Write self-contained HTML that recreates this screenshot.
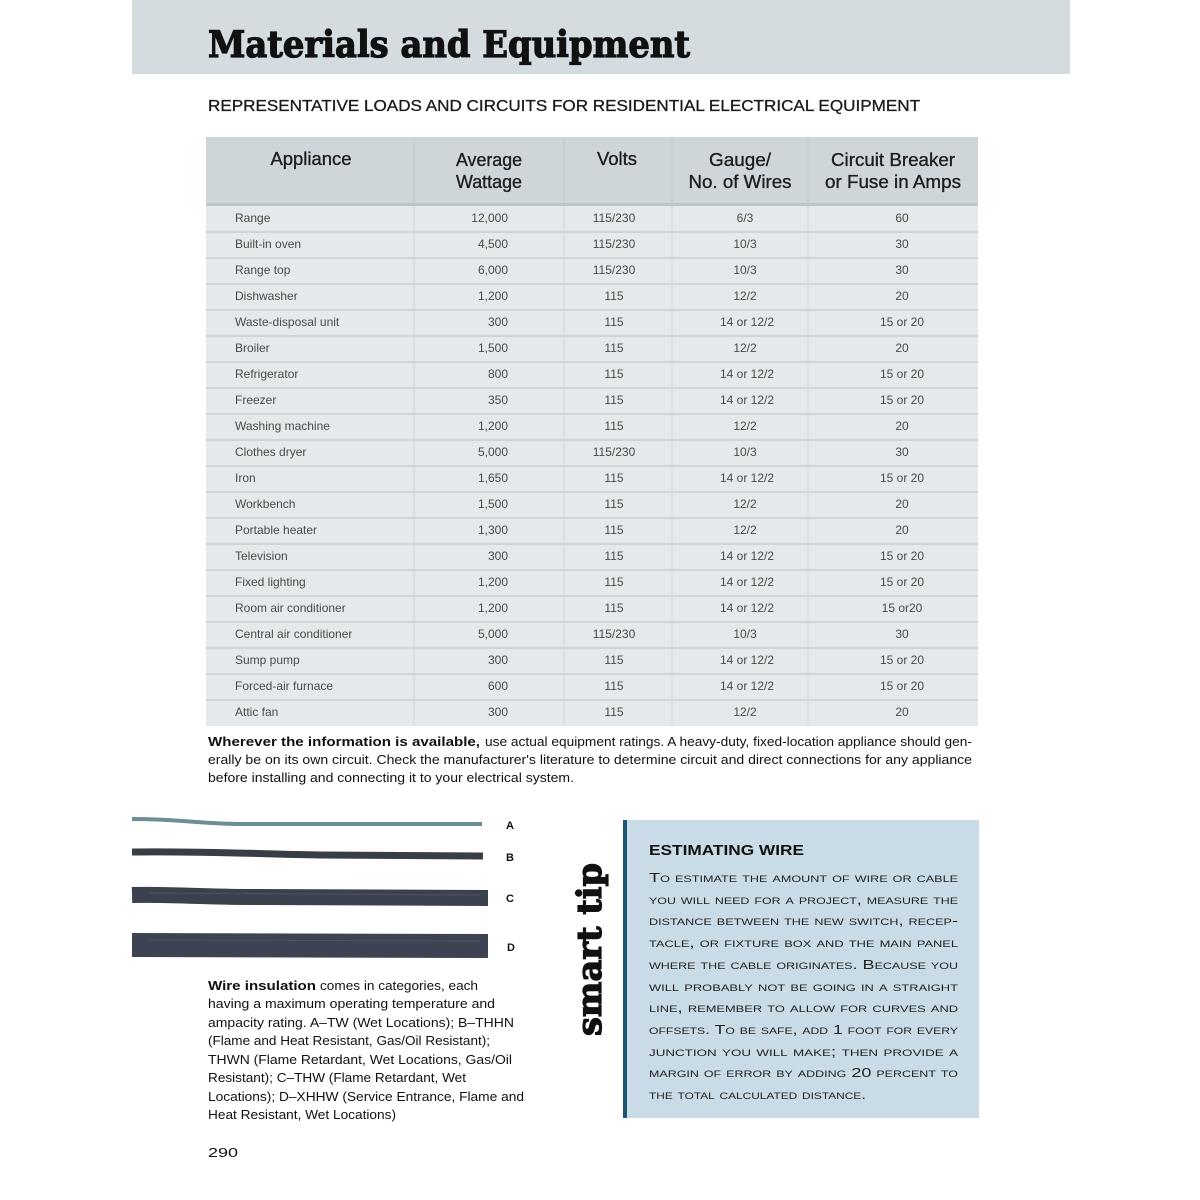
<!DOCTYPE html>
<html>
<head>
<meta charset="utf-8">
<style>
html,body{margin:0;padding:0;background:#fff;}
svg{display:block;}
.sans{font-family:"Liberation Sans","DejaVu Sans",sans-serif;}
.slab{font-family:"DejaVu Serif","Liberation Serif",serif;font-weight:bold;}
.row{font-family:"Liberation Sans",sans-serif;font-size:12px;fill:#4a4a4a;}
.hd{font-family:"Liberation Sans",sans-serif;font-size:18px;fill:#1e1e1e;stroke:#1e1e1e;stroke-width:0.35;}
.sc{font-family:"Liberation Sans",sans-serif;font-size:13px;fill:#222;font-variant:small-caps;}
.p{font-family:"Liberation Sans",sans-serif;font-size:13px;fill:#111;}
</style>
</head>
<body>
<svg width="1200" height="1200" viewBox="0 0 1200 1200" xmlns="http://www.w3.org/2000/svg">
<rect width="1200" height="1200" fill="#fff"/>
<!-- banner -->
<rect x="132" y="0" width="938" height="74" fill="#d5dcdf"/>
<text class="slab" x="208" y="57" font-size="36" fill="#111" stroke="#111" stroke-width="1.2" textLength="482" lengthAdjust="spacingAndGlyphs">Materials and Equipment</text>

<!-- subtitle -->
<text class="sans" x="208" y="111" font-size="16" fill="#1a1a1a" stroke="#1a1a1a" stroke-width="0.3" textLength="712" lengthAdjust="spacingAndGlyphs">REPRESENTATIVE LOADS AND CIRCUITS FOR RESIDENTIAL ELECTRICAL EQUIPMENT</text>

<!-- table -->
<rect x="206" y="137" width="772" height="68" fill="#ced6da"/>
<rect x="206" y="203" width="772" height="3" fill="#bcc5c9"/>
<rect x="206" y="206" width="772" height="520" fill="#e5e9eb"/>
<g stroke="#bfc7cb" stroke-width="1">
<line x1="414" y1="137" x2="414" y2="204"/>
<line x1="564" y1="137" x2="564" y2="204"/>
<line x1="672" y1="137" x2="672" y2="204"/>
<line x1="808" y1="137" x2="808" y2="204"/>
</g>
<g stroke="#cfd5d8" stroke-width="1">
<line x1="414" y1="206" x2="414" y2="726"/>
<line x1="564" y1="206" x2="564" y2="726"/>
<line x1="672" y1="206" x2="672" y2="726"/>
<line x1="808" y1="206" x2="808" y2="726"/>
</g>
<g stroke="#c7ced2" stroke-width="1.5">
<line x1="206" y1="232" x2="978" y2="232"/>
<line x1="206" y1="258" x2="978" y2="258"/>
<line x1="206" y1="284" x2="978" y2="284"/>
<line x1="206" y1="310" x2="978" y2="310"/>
<line x1="206" y1="336" x2="978" y2="336"/>
<line x1="206" y1="362" x2="978" y2="362"/>
<line x1="206" y1="388" x2="978" y2="388"/>
<line x1="206" y1="414" x2="978" y2="414"/>
<line x1="206" y1="440" x2="978" y2="440"/>
<line x1="206" y1="466" x2="978" y2="466"/>
<line x1="206" y1="492" x2="978" y2="492"/>
<line x1="206" y1="518" x2="978" y2="518"/>
<line x1="206" y1="544" x2="978" y2="544"/>
<line x1="206" y1="570" x2="978" y2="570"/>
<line x1="206" y1="596" x2="978" y2="596"/>
<line x1="206" y1="622" x2="978" y2="622"/>
<line x1="206" y1="648" x2="978" y2="648"/>
<line x1="206" y1="674" x2="978" y2="674"/>
<line x1="206" y1="700" x2="978" y2="700"/>
</g>

<!-- header text -->
<g class="hd" text-anchor="middle">
<text x="311" y="165" textLength="81" lengthAdjust="spacingAndGlyphs">Appliance</text>
<text x="489" y="166" textLength="66" lengthAdjust="spacingAndGlyphs">Average</text>
<text x="489" y="188" textLength="66" lengthAdjust="spacingAndGlyphs">Wattage</text>
<text x="617" y="165" textLength="40" lengthAdjust="spacingAndGlyphs">Volts</text>
<text x="740" y="166" textLength="62" lengthAdjust="spacingAndGlyphs">Gauge/</text>
<text x="740" y="188" textLength="103" lengthAdjust="spacingAndGlyphs">No. of Wires</text>
<text x="893" y="166" textLength="124" lengthAdjust="spacingAndGlyphs">Circuit Breaker</text>
<text x="893" y="188" textLength="136" lengthAdjust="spacingAndGlyphs">or Fuse in Amps</text>
</g>

<!-- rows: appliance -->
<g class="row">
<text x="235" y="222">Range</text>
<text x="235" y="248">Built-in oven</text>
<text x="235" y="274">Range top</text>
<text x="235" y="300">Dishwasher</text>
<text x="235" y="326">Waste-disposal unit</text>
<text x="235" y="352">Broiler</text>
<text x="235" y="378">Refrigerator</text>
<text x="235" y="404">Freezer</text>
<text x="235" y="430">Washing machine</text>
<text x="235" y="456">Clothes dryer</text>
<text x="235" y="482">Iron</text>
<text x="235" y="508">Workbench</text>
<text x="235" y="534">Portable heater</text>
<text x="235" y="560">Television</text>
<text x="235" y="586">Fixed lighting</text>
<text x="235" y="612">Room air conditioner</text>
<text x="235" y="638">Central air conditioner</text>
<text x="235" y="664">Sump pump</text>
<text x="235" y="690">Forced-air furnace</text>
<text x="235" y="716">Attic fan</text>
</g>
<!-- wattage -->
<g class="row" text-anchor="end">
<text x="508" y="222">12,000</text>
<text x="508" y="248">4,500</text>
<text x="508" y="274">6,000</text>
<text x="508" y="300">1,200</text>
<text x="508" y="326">300</text>
<text x="508" y="352">1,500</text>
<text x="508" y="378">800</text>
<text x="508" y="404">350</text>
<text x="508" y="430">1,200</text>
<text x="508" y="456">5,000</text>
<text x="508" y="482">1,650</text>
<text x="508" y="508">1,500</text>
<text x="508" y="534">1,300</text>
<text x="508" y="560">300</text>
<text x="508" y="586">1,200</text>
<text x="508" y="612">1,200</text>
<text x="508" y="638">5,000</text>
<text x="508" y="664">300</text>
<text x="508" y="690">600</text>
<text x="508" y="716">300</text>
</g>
<!-- volts -->
<g class="row" text-anchor="middle">
<text x="614" y="222">115/230</text>
<text x="614" y="248">115/230</text>
<text x="614" y="274">115/230</text>
<text x="614" y="300">115</text>
<text x="614" y="326">115</text>
<text x="614" y="352">115</text>
<text x="614" y="378">115</text>
<text x="614" y="404">115</text>
<text x="614" y="430">115</text>
<text x="614" y="456">115/230</text>
<text x="614" y="482">115</text>
<text x="614" y="508">115</text>
<text x="614" y="534">115</text>
<text x="614" y="560">115</text>
<text x="614" y="586">115</text>
<text x="614" y="612">115</text>
<text x="614" y="638">115/230</text>
<text x="614" y="664">115</text>
<text x="614" y="690">115</text>
<text x="614" y="716">115</text>
</g>
<!-- gauge -->
<g class="row" text-anchor="middle">
<text x="745" y="222">6/3</text>
<text x="745" y="248">10/3</text>
<text x="745" y="274">10/3</text>
<text x="745" y="300">12/2</text>
<text x="747" y="326">14 or 12/2</text>
<text x="745" y="352">12/2</text>
<text x="747" y="378">14 or 12/2</text>
<text x="747" y="404">14 or 12/2</text>
<text x="745" y="430">12/2</text>
<text x="745" y="456">10/3</text>
<text x="747" y="482">14 or 12/2</text>
<text x="745" y="508">12/2</text>
<text x="745" y="534">12/2</text>
<text x="747" y="560">14 or 12/2</text>
<text x="747" y="586">14 or 12/2</text>
<text x="747" y="612">14 or 12/2</text>
<text x="745" y="638">10/3</text>
<text x="747" y="664">14 or 12/2</text>
<text x="747" y="690">14 or 12/2</text>
<text x="745" y="716">12/2</text>
</g>
<!-- breaker -->
<g class="row" text-anchor="middle">
<text x="902" y="222">60</text>
<text x="902" y="248">30</text>
<text x="902" y="274">30</text>
<text x="902" y="300">20</text>
<text x="902" y="326">15 or 20</text>
<text x="902" y="352">20</text>
<text x="902" y="378">15 or 20</text>
<text x="902" y="404">15 or 20</text>
<text x="902" y="430">20</text>
<text x="902" y="456">30</text>
<text x="902" y="482">15 or 20</text>
<text x="902" y="508">20</text>
<text x="902" y="534">20</text>
<text x="902" y="560">15 or 20</text>
<text x="902" y="586">15 or 20</text>
<text x="902" y="612">15 or20</text>
<text x="902" y="638">30</text>
<text x="902" y="664">15 or 20</text>
<text x="902" y="690">15 or 20</text>
<text x="902" y="716">20</text>
</g>

<!-- paragraph below table -->
<text class="p" x="208" y="746" font-weight="bold" textLength="272" lengthAdjust="spacingAndGlyphs">Wherever the information is available,</text>
<text class="p" x="485" y="746" textLength="487" lengthAdjust="spacingAndGlyphs">use actual equipment ratings. A heavy-duty, fixed-location appliance should gen-</text>
<text class="p" x="208" y="764" textLength="764" lengthAdjust="spacingAndGlyphs">erally be on its own circuit. Check the manufacturer's literature to determine circuit and direct connections for any appliance</text>
<text class="p" x="208" y="782" textLength="366" lengthAdjust="spacingAndGlyphs">before installing and connecting it to your electrical system.</text>

<!-- wires -->
<path d="M132,819 C180,819 200,824 240,824 L482,824" stroke="#6d8e93" stroke-width="4" fill="none" stroke-linecap="butt"/>
<path d="M132,852 C200,851 260,854 320,855 L483,856" stroke="#393d46" stroke-width="7" fill="none"/>
<path d="M132,895 C170,894 200,897 260,897 L488,898" stroke="#3b414f" stroke-width="16" fill="none"/>
<path d="M132,945 L488,946" stroke="#3d4352" stroke-width="24" fill="none"/>
<path d="M150,893 L480,895" stroke="#596070" stroke-width="1.2" opacity="0.5" fill="none"/>
<path d="M150,940 L480,941" stroke="#5b6272" stroke-width="1.2" opacity="0.5" fill="none"/>
<g class="sans" font-size="11" font-weight="bold" fill="#111" text-anchor="middle">
<text x="510" y="829">A</text>
<text x="510" y="861">B</text>
<text x="510" y="902">C</text>
<text x="511" y="951">D</text>
</g>

<!-- wire insulation paragraph -->
<text class="p" x="208" y="990" font-weight="bold" textLength="108" lengthAdjust="spacingAndGlyphs">Wire insulation</text>
<text class="p" x="320" y="990" textLength="158" lengthAdjust="spacingAndGlyphs">comes in categories, each</text>
<text class="p" x="208" y="1008" textLength="287" lengthAdjust="spacingAndGlyphs">having a maximum operating temperature and</text>
<text class="p" x="208" y="1027" textLength="306" lengthAdjust="spacingAndGlyphs">ampacity rating. A–TW (Wet Locations); B–THHN</text>
<text class="p" x="208" y="1045" textLength="282" lengthAdjust="spacingAndGlyphs">(Flame and Heat Resistant, Gas/Oil Resistant);</text>
<text class="p" x="208" y="1064" textLength="304" lengthAdjust="spacingAndGlyphs">THWN (Flame Retardant, Wet Locations, Gas/Oil</text>
<text class="p" x="208" y="1082" textLength="258" lengthAdjust="spacingAndGlyphs">Resistant); C–THW (Flame Retardant, Wet</text>
<text class="p" x="208" y="1101" textLength="316" lengthAdjust="spacingAndGlyphs">Locations); D–XHHW (Service Entrance, Flame and</text>
<text class="p" x="208" y="1119" textLength="188" lengthAdjust="spacingAndGlyphs">Heat Resistant, Wet Locations)</text>

<text class="p" x="208" y="1157" font-size="17" textLength="30" lengthAdjust="spacingAndGlyphs">290</text>

<!-- smart tip -->
<text class="slab" transform="translate(601,1036) rotate(-90)" font-size="34" fill="#111" stroke="#111" stroke-width="1.2" textLength="173" lengthAdjust="spacingAndGlyphs">smart tip</text>

<!-- estimating box -->
<rect x="623" y="820" width="356" height="298" fill="#c9dbe6"/>
<rect x="623" y="820" width="4" height="298" fill="#1d5672"/>
<text class="sans" x="649" y="855" font-size="15" font-weight="bold" fill="#111" textLength="155" lengthAdjust="spacingAndGlyphs">ESTIMATING WIRE</text>
<g class="sc">
<text x="649" y="882" textLength="309" lengthAdjust="spacingAndGlyphs">To estimate the amount of wire or cable</text>
<text x="649" y="904" textLength="309" lengthAdjust="spacingAndGlyphs">you will need for a project, measure the</text>
<text x="649" y="925" textLength="309" lengthAdjust="spacingAndGlyphs">distance between the new switch, recep-</text>
<text x="649" y="947" textLength="309" lengthAdjust="spacingAndGlyphs">tacle, or fixture box and the main panel</text>
<text x="649" y="969" textLength="309" lengthAdjust="spacingAndGlyphs">where the cable originates. Because you</text>
<text x="649" y="991" textLength="309" lengthAdjust="spacingAndGlyphs">will probably not be going in a straight</text>
<text x="649" y="1012" textLength="309" lengthAdjust="spacingAndGlyphs">line, remember to allow for curves and</text>
<text x="649" y="1034" textLength="309" lengthAdjust="spacingAndGlyphs">offsets. To be safe, add 1 foot for every</text>
<text x="649" y="1056" textLength="309" lengthAdjust="spacingAndGlyphs">junction you will make; then provide a</text>
<text x="649" y="1077" textLength="309" lengthAdjust="spacingAndGlyphs">margin of error by adding 20 percent to</text>
<text x="649" y="1099" textLength="217" lengthAdjust="spacingAndGlyphs">the total calculated distance.</text>
</g>
</svg>
</body>
</html>
